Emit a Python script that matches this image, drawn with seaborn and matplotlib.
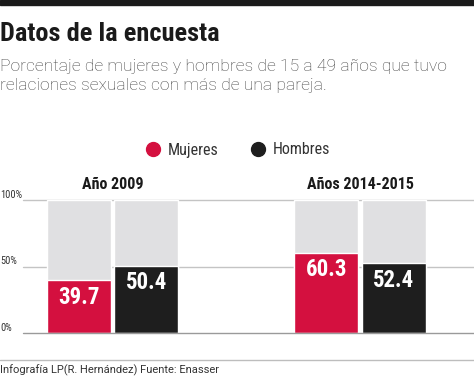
import matplotlib
matplotlib.use("Agg")
import matplotlib.pyplot as plt
from matplotlib.lines import Line2D
import seaborn as sns
import pandas as pd

periodos = ["Año 2009", "Años 2014-2015"]
sexos = ["Mujeres", "Hombres"]
mujeres = [39.7, 60.3]
hombres = [50.4, 52.4]
tope = [100, 100]
ticks = [0, 50, 100]
tick_labels = ["0%", "50%", "100%"]

rojo = "#d4103f"
negro = "#1e1e1e"
gris = "#e0e0e2"

sns.set_theme(style="white")
plt.rcParams["font.family"] = ["Roboto Condensed", "DejaVu Sans"]

df = pd.DataFrame({
    "periodo": periodos * 2,
    "sexo": [sexos[0]] * 2 + [sexos[1]] * 2,
    "valor": mujeres + hombres,
    "tope": tope * 2,
})

fig = plt.figure(figsize=(4.74, 3.79), dpi=100)
ax = fig.add_axes([23 / 474, 46 / 379, 1 - 23 / 474, 133 / 379])

# grey 100% backgrounds, then the values on top
sns.barplot(data=df, x="periodo", y="tope", hue="sexo", palette=[gris, gris], saturation=1,
            width=0.545, gap=0.045, legend=False, ax=ax, zorder=1)
sns.barplot(data=df, x="periodo", y="valor", hue="sexo", palette=[rojo, negro], saturation=1,
            width=0.545, gap=0.045, legend=False, ax=ax, zorder=2)

ax.set_xlim(-0.3616, 1.4606)
ax.set_ylim(0, 100)
for t in ticks:
    ax.axhline(t, color="#c4c4c4" if t else "#9a9a9a", lw=1, zorder=0.5 if t else 3, clip_on=False)
ax.set_xlabel("")
ax.set_ylabel("")
ax.set_xticks([])
ax.set_yticks([])
for s in ax.spines.values():
    s.set_visible(False)

for cont in ax.containers[2:]:
    for p in cont:
        ax.text(p.get_x() + p.get_width() / 2, p.get_height() - 4, f"{p.get_height():.1f}",
                ha="center", va="top", color="white", fontsize=16.5, fontweight="bold", zorder=4)

for t, lab in zip(ticks, tick_labels):
    ax.annotate(lab, xy=(0, t), xycoords=("figure fraction", "data"), xytext=(0, 0),
                textcoords="offset points", ha="left", va="bottom", fontsize=7.5, color="#333333")

for i, per in enumerate(periodos):
    ax.annotate(per, xy=(i, 100), xytext=(0, 5.5), textcoords="offset points",
                ha="center", va="bottom", fontsize=11.5, fontweight="bold", color="#1a1a1a")

handles = [Line2D([], [], marker="o", ls="", color=c, markersize=10) for c in (rojo, negro)]
fig.legend(handles, sexos, loc="center", bbox_to_anchor=(237 / 474, 1 - 150 / 379), ncol=2,
           frameon=False, fontsize=11.5, handlelength=1.2, handletextpad=0.3, columnspacing=1.9,
           labelcolor="#333333")

fig.patches.append(plt.Rectangle((0, 1 - 5 / 379), 1, 5 / 379, transform=fig.transFigure,
                                 color="#1a1a1a", zorder=5))
fig.text(0, 1 - 34 / 379, "Datos de la encuesta", fontsize=19, fontweight="bold",
         color="#1a1a1a", va="center", ha="left")
fig.text(0, 1 - 76 / 379, "Porcentaje de mujeres y hombres de 15 a 49 años que tuvo\nrelaciones sexuales con más de una pareja.",
         fontsize=12.6, family="Roboto", fontweight="light", color="#444444", va="center",
         ha="left", linespacing=1.4)
fig.lines.append(Line2D([0, 1], [1 - 360 / 379] * 2, transform=fig.transFigure, color="#bdbdbd", lw=1))
fig.text(0, 1 - 370 / 379, "Infografía LP(R. Hernández) Fuente: Enasser", fontsize=8,
         family="Roboto", color="#333333", va="center", ha="left")

fig.savefig("out.png", dpi=100)
